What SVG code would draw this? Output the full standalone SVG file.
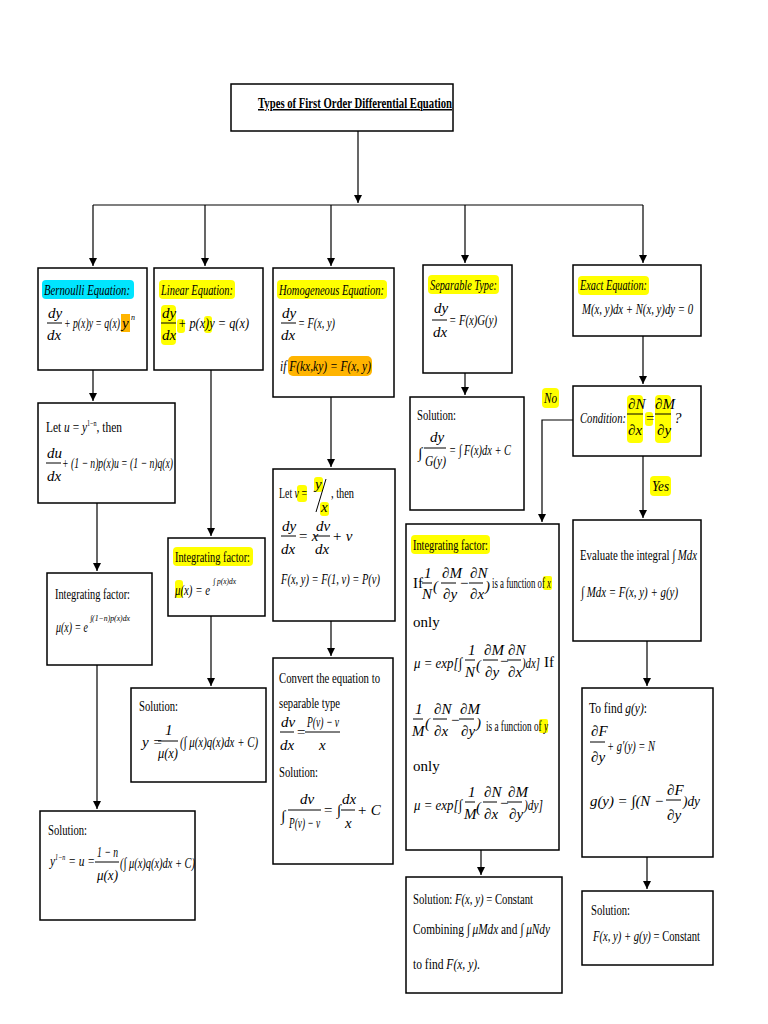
<svg xmlns="http://www.w3.org/2000/svg" width="768" height="1024" viewBox="0 0 768 1024">
<style>
text{font-family:"Liberation Serif","Times New Roman",serif;font-size:15px;fill:#000}
.i{font-style:italic}
.sm{font-size:8px}
.b{fill:#fff;stroke:#000;stroke-width:1.5}
.fb{stroke:#000;stroke-width:1}
.c{stroke:#000;stroke-width:1.2;fill:none}
.y{fill:#ffff00}
.o{fill:#ffb400}
.cy{fill:#00e5ff}
</style>
<defs><marker id="a" viewBox="0 0 10 10" refX="10" refY="5" markerWidth="7" markerHeight="7" orient="auto"><path d="M0,0L10,5L0,10z" fill="#000"/></marker></defs>
<rect width="768" height="1024" fill="#fff"/>
<g id="connectors">
<path class="c" d="M358,131V203" marker-end="url(#a)"/>
<path class="c" d="M93,205H643"/>
<path class="c" d="M93,205V266" marker-end="url(#a)"/>
<path class="c" d="M205,205V266" marker-end="url(#a)"/>
<path class="c" d="M331,205V266" marker-end="url(#a)"/>
<path class="c" d="M465,205V263" marker-end="url(#a)"/>
<path class="c" d="M643,205V263" marker-end="url(#a)"/>
<path class="c" d="M93,370V401" marker-end="url(#a)"/>
<path class="c" d="M97,503V571" marker-end="url(#a)"/>
<path class="c" d="M97,665V809" marker-end="url(#a)"/>
<path class="c" d="M211,370V536" marker-end="url(#a)"/>
<path class="c" d="M211,616V686" marker-end="url(#a)"/>
<path class="c" d="M331,397V467" marker-end="url(#a)"/>
<path class="c" d="M331,621V656" marker-end="url(#a)"/>
<path class="c" d="M465,373V395" marker-end="url(#a)"/>
<path class="c" d="M643,336V384" marker-end="url(#a)"/>
<path class="c" d="M573,420H542V522" marker-end="url(#a)"/>
<path class="c" d="M643,456V518" marker-end="url(#a)"/>
<path class="c" d="M647,641V686" marker-end="url(#a)"/>
<path class="c" d="M647,857V889" marker-end="url(#a)"/>
<path class="c" d="M481,850V875" marker-end="url(#a)"/>
<rect class="y" x="542" y="388" width="17" height="20" rx="4"/>
<text class="i" x="544" y="403" textLength="13" lengthAdjust="spacingAndGlyphs">No</text>
<rect class="y" x="650" y="476" width="21" height="20" rx="4"/>
<text class="i" x="652" y="491" textLength="17" lengthAdjust="spacingAndGlyphs">Yes</text>
</g>
<g id="title">
<rect class="b" x="231" y="84" width="222" height="47"/>
<text x="258" y="108" font-weight="bold" font-size="14" text-decoration="underline" textLength="194" lengthAdjust="spacingAndGlyphs">Types of First Order Differential Equation</text>
</g>
<g id="bernoulli">
<rect class="b" x="38" y="268" width="109" height="102"/>
<rect class="cy" x="42" y="280" width="92" height="19" rx="4"/>
<text class="i" x="44" y="295" textLength="86" lengthAdjust="spacingAndGlyphs">Bernoulli Equation:</text>
<text class="i" x="48" y="318">dy</text><line class="fb" x1="47" y1="323" x2="62" y2="323"/><text class="i" x="47" y="340">dx</text>
<text class="i" x="64" y="328" textLength="56" lengthAdjust="spacingAndGlyphs">+ p(x)y = q(x)</text>
<rect class="o" x="121" y="314" width="9" height="18"/>
<text class="i" x="122" y="328">y</text><text class="i sm" x="131" y="320">n</text>
</g>
<g id="linear">
<rect class="b" x="154" y="268" width="109" height="102"/>
<rect class="y" x="159" y="280" width="76" height="19" rx="4"/>
<text class="i" x="161" y="295" textLength="72" lengthAdjust="spacingAndGlyphs">Linear Equation:</text>
<rect class="y" x="161" y="305" width="15" height="40" rx="4"/>
<text class="i" x="162" y="318">dy</text><line class="fb" x1="161" y1="323" x2="176" y2="323"/><text class="i" x="162" y="340">dx</text>
<rect class="y" x="177" y="319" width="8" height="14" rx="3"/>
<rect class="y" x="204" y="316" width="8" height="17" rx="3"/>
<text class="i" x="178" y="328" textLength="71" lengthAdjust="spacingAndGlyphs">+ p(x)y = q(x)</text>
</g>
<g id="homogeneous">
<rect class="b" x="273" y="268" width="121" height="129"/>
<rect class="y" x="277" y="280" width="110" height="19" rx="4"/>
<text class="i" x="279" y="295" textLength="105" lengthAdjust="spacingAndGlyphs">Homogeneous Equation:</text>
<text class="i" x="282" y="318">dy</text><line class="fb" x1="281" y1="323" x2="296" y2="323"/><text class="i" x="281" y="340">dx</text>
<text class="i" x="298" y="328" textLength="37" lengthAdjust="spacingAndGlyphs">= F(x, y)</text>
<rect class="o" x="288" y="356" width="84" height="20" rx="5"/>
<text class="i" x="280" y="371" textLength="91" lengthAdjust="spacingAndGlyphs">if  F(kx,ky) = F(x, y)</text>
</g>
<g id="separable">
<rect class="b" x="423" y="265" width="89" height="108"/>
<rect class="y" x="428" y="275" width="71" height="19" rx="4"/>
<text class="i" x="430" y="290" textLength="67" lengthAdjust="spacingAndGlyphs">Separable Type:</text>
<text class="i" x="434" y="313">dy</text><line class="fb" x1="432" y1="320" x2="447" y2="320"/><text class="i" x="433" y="337">dx</text>
<text class="i" x="449" y="325" textLength="48" lengthAdjust="spacingAndGlyphs">= F(x)G(y)</text>
</g>
<g id="exact">
<rect class="b" x="573" y="265" width="128" height="71"/>
<rect class="y" x="578" y="276" width="71" height="19" rx="4"/>
<text class="i" x="580" y="290" textLength="67" lengthAdjust="spacingAndGlyphs">Exact Equation:</text>
<text class="i" x="582" y="314" textLength="111" lengthAdjust="spacingAndGlyphs">M(x, y)dx + N(x, y)dy = 0</text>
</g>
<g id="bernoulli-sub">
<rect class="b" x="38" y="403" width="137" height="100"/>
<text x="46" y="432" textLength="76" lengthAdjust="spacingAndGlyphs">Let <tspan class="i">u</tspan> = <tspan class="i">y</tspan><tspan class="sm" dy="-6">1−n</tspan><tspan dy="6">, then</tspan></text>
<text class="i" x="47" y="458">du</text><line class="fb" x1="46" y1="463" x2="61" y2="463"/><text class="i" x="47" y="481">dx</text>
<text class="i" x="62" y="468" textLength="111" lengthAdjust="spacingAndGlyphs">+ (1 − n)p(x)u = (1 − n)q(x)</text>
</g>
<g id="bernoulli-if">
<rect class="b" x="47" y="573" width="105" height="92"/>
<text x="55" y="599" textLength="75" lengthAdjust="spacingAndGlyphs">Integrating factor:</text>
<text class="i" x="56" y="632" textLength="32" lengthAdjust="spacingAndGlyphs">μ(x) = e</text><text class="i sm" x="90" y="621" textLength="40" lengthAdjust="spacingAndGlyphs">∫(1−n)p(x)dx</text>
</g>
<g id="bernoulli-sol">
<rect class="b" x="40" y="811" width="155" height="109"/>
<text x="48" y="835" textLength="39" lengthAdjust="spacingAndGlyphs">Solution:</text>
<text class="i" x="50" y="866" textLength="45" lengthAdjust="spacingAndGlyphs">y<tspan class="sm" dy="-6">1−n</tspan><tspan dy="6"> = u =</tspan></text>
<text class="i" x="97" y="857" textLength="21" lengthAdjust="spacingAndGlyphs">1 − n</text><line class="fb" x1="95" y1="862" x2="119" y2="862"/><text class="i" x="97" y="880" textLength="21" lengthAdjust="spacingAndGlyphs">μ(x)</text>
<text class="i" x="120" y="868" textLength="75" lengthAdjust="spacingAndGlyphs">(∫ μ(x)q(x)dx + C)</text>
</g>
<g id="linear-if">
<rect class="b" x="168" y="538" width="97" height="78"/>
<rect class="y" x="173" y="547" width="80" height="19" rx="4"/>
<text x="175" y="562" textLength="75" lengthAdjust="spacingAndGlyphs">Integrating factor:</text>
<rect class="y" x="175" y="580" width="8" height="18" rx="3"/>
<text class="i" x="175" y="595" textLength="35" lengthAdjust="spacingAndGlyphs">μ(x) = e</text><text class="i sm" x="213" y="584" textLength="23" lengthAdjust="spacingAndGlyphs">∫ p(x)dx</text>
</g>
<g id="linear-sol">
<rect class="b" x="131" y="688" width="135" height="94"/>
<text x="139" y="711" textLength="39" lengthAdjust="spacingAndGlyphs">Solution:</text>
<text class="i" x="142" y="747">y =</text>
<text class="i" x="165" y="735">1</text><line class="fb" x1="158" y1="741" x2="178" y2="741"/><text class="i" x="158" y="758" textLength="20" lengthAdjust="spacingAndGlyphs">μ(x)</text>
<text class="i" x="180" y="747" textLength="78" lengthAdjust="spacingAndGlyphs">(∫ μ(x)q(x)dx + C)</text>
</g>
<g id="homog-sub">
<rect class="b" x="273" y="469" width="122" height="152"/>
<rect class="y" x="297" y="485" width="10" height="17" rx="3"/>
<rect class="y" x="314" y="477" width="9" height="15" rx="3"/>
<rect class="y" x="320" y="502" width="9" height="14" rx="3"/>
<text x="279" y="498" textLength="28" lengthAdjust="spacingAndGlyphs">Let <tspan class="i">v</tspan> =</text>
<text class="i" x="315" y="489">y</text><line class="fb" x1="316" y1="512" x2="326" y2="479"/><text class="i" x="321" y="512">x</text>
<text x="331" y="498" textLength="23" lengthAdjust="spacingAndGlyphs">, then</text>
<text class="i" x="282" y="531">dy</text><line class="fb" x1="281" y1="536" x2="296" y2="536"/><text class="i" x="281" y="554">dx</text>
<text class="i" x="298" y="541">= x</text>
<text class="i" x="316" y="531">dv</text><line class="fb" x1="315" y1="536" x2="330" y2="536"/><text class="i" x="315" y="554">dx</text>
<text class="i" x="332" y="541">+ v</text>
<text class="i" x="281" y="584" textLength="99" lengthAdjust="spacingAndGlyphs">F(x, y) = F(1, v) = P(v)</text>
</g>
<g id="homog-conv">
<rect class="b" x="273" y="658" width="120" height="206"/>
<text x="279" y="683" textLength="101" lengthAdjust="spacingAndGlyphs">Convert the equation to</text>
<text x="279" y="708" textLength="61" lengthAdjust="spacingAndGlyphs">separable type</text>
<text class="i" x="281" y="727">dv</text><line class="fb" x1="280" y1="732" x2="294" y2="732"/><text class="i" x="280" y="750">dx</text>
<text class="i" x="296" y="737">=</text>
<text class="i" x="307" y="727" textLength="32" lengthAdjust="spacingAndGlyphs">P(v) − v</text><line class="fb" x1="305" y1="732" x2="340" y2="732"/><text class="i" x="319" y="750">x</text>
<text x="279" y="777" textLength="39" lengthAdjust="spacingAndGlyphs">Solution:</text>
<text class="i" x="281" y="821">∫</text>
<text class="i" x="300" y="804">dv</text><line class="fb" x1="288" y1="810" x2="321" y2="810"/><text class="i" x="289" y="828" textLength="31" lengthAdjust="spacingAndGlyphs">P(v) − v</text>
<text class="i" x="323" y="815">= ∫</text>
<text class="i" x="342" y="804">dx</text><line class="fb" x1="341" y1="810" x2="355" y2="810"/><text class="i" x="345" y="828">x</text>
<text class="i" x="357" y="815">+ C</text>
</g>
<g id="separable-sol">
<rect class="b" x="410" y="397" width="114" height="113"/>
<text x="417" y="420" textLength="39" lengthAdjust="spacingAndGlyphs">Solution:</text>
<text class="i" x="418" y="458">∫</text>
<text class="i" x="430" y="442">dy</text><line class="fb" x1="424" y1="448" x2="446" y2="448"/><text class="i" x="425" y="466" textLength="21" lengthAdjust="spacingAndGlyphs">G(y)</text>
<text class="i" x="449" y="455" textLength="62" lengthAdjust="spacingAndGlyphs">= ∫ F(x)dx + C</text>
</g>
<g id="condition">
<rect class="b" x="573" y="386" width="128" height="70"/>
<text class="i" x="580" y="423" textLength="46" lengthAdjust="spacingAndGlyphs">Condition:</text>
<rect class="y" x="627" y="395" width="16" height="48" rx="4"/>
<rect class="y" x="645" y="412" width="8" height="14" rx="3"/>
<rect class="y" x="655" y="395" width="16" height="48" rx="4"/>
<text class="i" x="628" y="409" font-size="14">∂N</text><line class="fb" x1="627" y1="414" x2="643" y2="414"/><text class="i" x="628" y="435" font-size="14">∂x</text>
<text class="i" x="645" y="423">=</text>
<text class="i" x="655" y="409" font-size="14">∂M</text><line class="fb" x1="655" y1="414" x2="671" y2="414"/><text class="i" x="657" y="435" font-size="14">∂y</text>
<text class="i" x="674" y="423">?</text>
</g>
<g id="evaluate">
<rect class="b" x="573" y="520" width="128" height="121"/>
<text x="580" y="560" textLength="117" lengthAdjust="spacingAndGlyphs">Evaluate the integral <tspan class="i">∫ Mdx</tspan></text>
<text class="i" x="581" y="597" textLength="97" lengthAdjust="spacingAndGlyphs">∫ Mdx = F(x, y) + g(y)</text>
</g>
<g id="tofind">
<rect class="b" x="582" y="688" width="131" height="169"/>
<text x="589" y="713" textLength="58" lengthAdjust="spacingAndGlyphs">To find <tspan class="i">g(y)</tspan>:</text>
<text class="i" x="591" y="736" font-size="14">∂F</text><line class="fb" x1="590" y1="742" x2="605" y2="742"/><text class="i" x="591" y="762" font-size="14">∂y</text>
<text class="i" x="607" y="751" textLength="48" lengthAdjust="spacingAndGlyphs">+ g′(y) = N</text>
<text class="i" x="590" y="806" textLength="74" lengthAdjust="spacingAndGlyphs">g(y) = ∫(N −</text>
<text class="i" x="667" y="795" font-size="14">∂F</text><line class="fb" x1="666" y1="800" x2="681" y2="800"/><text class="i" x="667" y="820" font-size="14">∂y</text>
<text class="i" x="683" y="806" textLength="17" lengthAdjust="spacingAndGlyphs">)dy</text>
</g>
<g id="exact-sol">
<rect class="b" x="582" y="891" width="131" height="74"/>
<text x="591" y="915" textLength="39" lengthAdjust="spacingAndGlyphs">Solution:</text>
<text x="593" y="941" textLength="107" lengthAdjust="spacingAndGlyphs"><tspan class="i">F(x, y) + g(y)</tspan> = Constant</text>
</g>
<g id="exact-if">
<rect class="b" x="406" y="524" width="153" height="326"/>
<rect class="y" x="411" y="535" width="79" height="19" rx="4"/>
<text x="413" y="550" textLength="75" lengthAdjust="spacingAndGlyphs">Integrating factor:</text>
<text font-size="11" x="413" y="588">If</text>
<text class="i" x="424" y="578" font-size="13">1</text><line class="fb" x1="422" y1="583" x2="432" y2="583"/><text class="i" x="422" y="599" font-size="13">N</text>
<text class="i" x="433" y="591" font-size="20">(</text>
<text class="i" x="442" y="578" font-size="12">∂M</text><line class="fb" x1="441" y1="583" x2="456" y2="583"/><text class="i" x="443" y="599" font-size="12">∂y</text>
<text class="i" x="459" y="588">−</text>
<text class="i" x="470" y="578" font-size="12">∂N</text><line class="fb" x1="469" y1="583" x2="483" y2="583"/><text class="i" x="470" y="599" font-size="12">∂x</text>
<text class="i" x="485" y="591" font-size="20">)</text>
<rect class="y" x="543" y="576" width="9" height="14" rx="2"/>
<text font-size="11" x="492" y="588" textLength="59" lengthAdjust="spacingAndGlyphs">is a function of <tspan class="i">x</tspan></text>
<text font-size="11" x="413" y="627">only</text>
<text class="i" x="414" y="668" textLength="48" lengthAdjust="spacingAndGlyphs">μ = exp[∫</text>
<text class="i" x="468" y="655" font-size="13">1</text><line class="fb" x1="465" y1="660" x2="475" y2="660"/><text class="i" x="465" y="677" font-size="13">N</text>
<text class="i" x="476" y="670" font-size="20">(</text>
<text class="i" x="484" y="655" font-size="12">∂M</text><line class="fb" x1="483" y1="660" x2="498" y2="660"/><text class="i" x="485" y="677" font-size="12">∂y</text>
<text class="i" x="499" y="666">−</text>
<text class="i" x="508" y="655" font-size="12">∂N</text><line class="fb" x1="507" y1="660" x2="521" y2="660"/><text class="i" x="508" y="677" font-size="12">∂x</text>
<text class="i" x="522" y="668" textLength="18" lengthAdjust="spacingAndGlyphs">)dx]</text>
<text font-size="11" x="544" y="667">If</text>
<text class="i" x="415" y="714" font-size="13">1</text><line class="fb" x1="413" y1="719" x2="423" y2="719"/><text class="i" x="412" y="736" font-size="13">M</text>
<text class="i" x="425" y="728" font-size="20">(</text>
<text class="i" x="434" y="714" font-size="12">∂N</text><line class="fb" x1="433" y1="719" x2="447" y2="719"/><text class="i" x="434" y="736" font-size="12">∂x</text>
<text class="i" x="450" y="725">−</text>
<text class="i" x="460" y="714" font-size="12">∂M</text><line class="fb" x1="459" y1="719" x2="474" y2="719"/><text class="i" x="461" y="736" font-size="12">∂y</text>
<text class="i" x="476" y="728" font-size="20">)</text>
<rect class="y" x="539" y="719" width="9" height="14" rx="2"/>
<text font-size="11" x="486" y="731" textLength="62" lengthAdjust="spacingAndGlyphs">is a function of <tspan class="i">y</tspan></text>
<text font-size="11" x="413" y="771">only</text>
<text class="i" x="414" y="810" textLength="48" lengthAdjust="spacingAndGlyphs">μ = exp[∫</text>
<text class="i" x="468" y="797" font-size="13">1</text><line class="fb" x1="465" y1="802" x2="475" y2="802"/><text class="i" x="464" y="819" font-size="13">M</text>
<text class="i" x="476" y="812" font-size="20">(</text>
<text class="i" x="484" y="797" font-size="12">∂N</text><line class="fb" x1="483" y1="802" x2="497" y2="802"/><text class="i" x="484" y="819" font-size="12">∂x</text>
<text class="i" x="499" y="808">−</text>
<text class="i" x="508" y="797" font-size="12">∂M</text><line class="fb" x1="507" y1="802" x2="522" y2="802"/><text class="i" x="509" y="819" font-size="12">∂y</text>
<text class="i" x="524" y="810" textLength="19" lengthAdjust="spacingAndGlyphs">)dy]</text>
</g>
<g id="exact-if-sol">
<rect class="b" x="406" y="877" width="156" height="116"/>
<text x="413" y="904" textLength="120" lengthAdjust="spacingAndGlyphs">Solution: <tspan class="i">F(x, y)</tspan> = Constant</text>
<text x="413" y="934" textLength="137" lengthAdjust="spacingAndGlyphs">Combining <tspan class="i">∫ μMdx</tspan> and <tspan class="i">∫ μNdy</tspan></text>
<text x="413" y="969" textLength="67" lengthAdjust="spacingAndGlyphs">to find <tspan class="i">F(x, y)</tspan>.</text>
</g>
</svg>
